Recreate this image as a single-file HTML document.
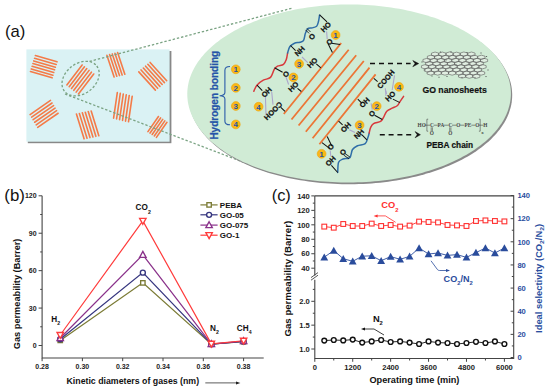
<!DOCTYPE html>
<html><head><meta charset="utf-8"><style>
html,body{margin:0;padding:0;background:#fff;}
svg{display:block;font-family:"Liberation Sans", sans-serif;}
</style></head><body>
<svg width="550" height="392" viewBox="0 0 550 392">
<rect width="550" height="392" fill="#fff"/>
<text x="4.9" y="36.7" font-size="16.4" fill="#111" textLength="20.4" lengthAdjust="spacingAndGlyphs">(a)</text>
<rect x="27.8" y="51" width="143.6" height="92.2" fill="#888"/>
<rect x="26.4" y="49.4" width="143.2" height="92.3" fill="#daf2f4"/>
<path d="M35.38,55.57L57.02,61.83M34.56,58.24L56.2,64.5M33.74,60.91L55.38,67.17M32.92,63.58L54.56,69.84M32.1,66.25L53.74,72.51M31.28,68.92L52.92,75.18M30.46,71.59L52.1,77.85M66.86,84.92L82.14,64.98M69.18,86.72L84.46,66.78M71.5,88.52L86.78,68.58M73.82,90.32L89.1,70.38M76.14,92.12L91.42,72.18M78.46,93.92L93.74,73.98M106.89,55.27L114.11,76.93M109.57,54.59L116.79,76.25M112.25,53.91L119.47,75.57M114.93,53.23L122.15,74.89M117.61,52.55L124.83,74.21M150.1,62.44L166.7,80.76M147.84,64.32L164.44,82.64M145.58,66.2L162.18,84.52M143.32,68.08L159.92,86.4M141.06,69.96L157.66,88.28M138.8,71.84L155.4,90.16M30.09,114.56L50.51,100.44M31.61,117.12L52.03,103M33.13,119.68L53.55,105.56M34.65,122.24L55.07,108.12M36.17,124.8L56.59,110.68M37.69,127.36L58.11,113.24M76.43,114.07L84.07,138.83M79.38,113.45L87.02,138.21M82.33,112.83L89.97,137.59M85.28,112.21L92.92,136.97M88.23,111.59L95.87,136.35M91.18,110.97L98.82,135.73M117.31,92.59L113.59,118.21M120.29,93.31L116.57,118.93M123.27,94.03L119.55,119.65M126.25,94.75L122.53,120.37M129.23,95.47L125.51,121.09M132.21,96.19L128.49,121.81M147.94,131.61L158.46,116.49M150.06,133.06L160.58,117.94M152.18,134.51L162.7,119.39M154.3,135.96L164.82,120.84M156.42,137.41L166.94,122.29" stroke="#f47b48" stroke-width="1.6" stroke-linecap="round" fill="none"/>
<g fill="none" stroke="#7aa383" stroke-width="1.3" stroke-dasharray="2.4 1.9">
<ellipse cx="80.6" cy="78.6" rx="20.5" ry="15" transform="rotate(-38 80.6 78.6)"/>
<path d="M89.5,61.4 L292,8.2"/>
<path d="M65,94 L268,171.6"/>
</g>
<defs><filter id="bl" x="-10%" y="-10%" width="120%" height="120%"><feGaussianBlur stdDeviation="0.6"/></filter></defs>
<path d="M512.2,95.15 L512.14,97.48 L511.98,99.81 L511.7,102.13 L511.31,104.45 L510.82,106.76 L510.21,109.06 L509.49,111.36 L508.67,113.64 L507.73,115.91 L506.69,118.17 L505.54,120.41 L504.29,122.64 L502.93,124.84 L501.46,127.03 L499.89,129.19 L498.22,131.33 L496.45,133.44 L494.58,135.53 L492.6,137.59 L490.54,139.63 L488.37,141.63 L486.11,143.6 L483.76,145.53 L481.32,147.43 L478.79,149.3 L476.16,151.13 L473.46,152.92 L470.67,154.67 L467.79,156.38 L464.84,158.05 L461.81,159.67 L458.7,161.25 L455.52,162.79 L452.26,164.28 L448.94,165.72 L445.55,167.11 L442.09,168.46 L438.57,169.75 L434.99,170.99 L431.35,172.18 L427.66,173.32 L423.91,174.41 L420.12,175.44 L416.27,176.41 L412.38,177.34 L408.45,178.2 L404.48,179.01 L400.48,179.76 L396.43,180.45 L392.36,181.09 L388.26,181.67 L384.13,182.18 L379.98,182.64 L375.81,183.05 L371.62,183.39 L367.41,183.67 L363.2,183.9 L358.97,184.06 L354.74,184.17 L350.5,184.21 L346.26,184.2 L342.02,184.13 L337.79,184 L333.56,183.81 L329.34,183.56 L325.13,183.25 L320.94,182.89 L316.76,182.47 L312.6,181.99 L308.46,181.45 L304.35,180.85 L300.27,180.2 L296.21,179.49 L292.19,178.72 L288.2,177.89 L284.25,177.01 L280.34,176.07 L276.48,175.07 L272.66,174.01 L268.89,172.9 L265.18,171.74 L261.53,170.51 L257.94,169.23 L254.41,167.9 L250.95,166.51 L247.57,165.07 L244.25,163.58 L241.02,162.04 L237.86,160.44 L234.79,158.8 L231.8,157.11 L228.91,155.38 L226.1,153.6 L223.39,151.77 L220.77,149.91 L218.25,148.01 L215.82,146.07 L213.5,144.09 L211.28,142.08 L209.15,140.04 L207.14,137.97 L205.22,135.87 L203.4,133.75 L201.69,131.6 L200.09,129.42 L198.58,127.23 L197.19,125.02 L195.89,122.78 L194.7,120.54 L193.62,118.27 L192.64,116 L191.77,113.71 L191,111.41 L190.34,109.1 L189.78,106.79 L189.33,104.47 L188.99,102.14 L188.75,99.81 L188.62,97.48 L188.6,95.15 L188.68,92.82 L188.87,90.49 L189.17,88.17 L189.58,85.85 L190.09,83.53 L190.72,81.23 L191.45,78.93 L192.28,76.65 L193.23,74.38 L194.28,72.12 L195.43,69.88 L196.69,67.66 L198.06,65.45 L199.53,63.27 L201.1,61.11 L202.77,58.97 L204.54,56.85 L206.42,54.77 L208.39,52.71 L210.46,50.67 L212.63,48.67 L214.89,46.7 L217.24,44.77 L219.68,42.87 L222.21,41 L224.83,39.17 L227.54,37.38 L230.33,35.63 L233.21,33.92 L236.16,32.25 L239.19,30.63 L242.3,29.05 L245.48,27.51 L248.74,26.02 L252.06,24.58 L255.46,23.19 L258.91,21.84 L262.43,20.55 L266.01,19.31 L269.65,18.12 L273.34,16.98 L277.09,15.89 L280.89,14.87 L284.73,13.89 L288.62,12.97 L292.55,12.11 L296.52,11.3 L300.53,10.55 L304.57,9.86 L308.65,9.23 L312.75,8.66 L316.88,8.14 L321.03,7.69 L325.2,7.3 L329.39,6.96 L333.6,6.69 L337.81,6.47 L342.04,6.32 L346.27,6.23 L350.5,6.2 L354.73,6.23 L358.96,6.32 L363.19,6.47 L367.4,6.69 L371.61,6.96 L375.8,7.3 L379.97,7.69 L384.12,8.14 L388.25,8.66 L392.35,9.23 L396.43,9.86 L400.47,10.55 L404.48,11.3 L408.45,12.11 L412.38,12.97 L416.27,13.89 L420.11,14.87 L423.91,15.89 L427.66,16.98 L431.35,18.12 L434.99,19.31 L438.57,20.55 L442.09,21.84 L445.54,23.19 L448.94,24.58 L452.26,26.02 L455.52,27.51 L458.7,29.05 L461.81,30.63 L464.84,32.25 L467.79,33.92 L470.67,35.63 L473.46,37.38 L476.16,39.17 L478.79,41 L481.32,42.87 L483.76,44.77 L486.11,46.7 L488.37,48.67 L490.54,50.68 L492.6,52.71 L494.58,54.77 L496.45,56.86 L498.22,58.97 L499.89,61.11 L501.46,63.27 L502.93,65.46 L504.29,67.66 L505.54,69.89 L506.69,72.13 L507.73,74.39 L508.67,76.66 L509.49,78.94 L510.21,81.24 L510.82,83.54 L511.31,85.85 L511.7,88.17 L511.98,90.49 L512.14,92.82Z" fill="#8a8a8a" filter="url(#bl)"/>
<path d="M510.9,93.45 L510.84,95.78 L510.68,98.11 L510.4,100.43 L510.01,102.75 L509.52,105.06 L508.91,107.36 L508.19,109.66 L507.37,111.94 L506.43,114.21 L505.39,116.47 L504.24,118.71 L502.99,120.94 L501.63,123.14 L500.16,125.33 L498.59,127.49 L496.92,129.63 L495.15,131.74 L493.28,133.83 L491.3,135.89 L489.24,137.93 L487.07,139.93 L484.81,141.9 L482.46,143.83 L480.02,145.73 L477.49,147.6 L474.86,149.43 L472.16,151.22 L469.37,152.97 L466.49,154.68 L463.54,156.35 L460.51,157.97 L457.4,159.55 L454.22,161.09 L450.96,162.58 L447.64,164.02 L444.25,165.41 L440.79,166.76 L437.27,168.05 L433.69,169.29 L430.05,170.48 L426.36,171.62 L422.61,172.71 L418.82,173.74 L414.97,174.71 L411.08,175.64 L407.15,176.5 L403.18,177.31 L399.18,178.06 L395.13,178.75 L391.06,179.39 L386.96,179.97 L382.83,180.48 L378.68,180.94 L374.51,181.35 L370.32,181.69 L366.11,181.97 L361.9,182.2 L357.67,182.36 L353.44,182.47 L349.2,182.51 L344.96,182.5 L340.72,182.43 L336.49,182.3 L332.26,182.11 L328.04,181.86 L323.83,181.55 L319.64,181.19 L315.46,180.77 L311.3,180.29 L307.16,179.75 L303.05,179.15 L298.97,178.5 L294.91,177.79 L290.89,177.02 L286.9,176.19 L282.95,175.31 L279.04,174.37 L275.18,173.37 L271.36,172.31 L267.59,171.2 L263.88,170.04 L260.23,168.81 L256.64,167.53 L253.11,166.2 L249.65,164.81 L246.27,163.37 L242.95,161.88 L239.72,160.34 L236.56,158.74 L233.49,157.1 L230.5,155.41 L227.61,153.68 L224.8,151.9 L222.09,150.07 L219.47,148.21 L216.95,146.31 L214.52,144.37 L212.2,142.39 L209.98,140.38 L207.85,138.34 L205.84,136.27 L203.92,134.17 L202.1,132.05 L200.39,129.9 L198.79,127.72 L197.28,125.53 L195.89,123.32 L194.59,121.08 L193.4,118.84 L192.32,116.57 L191.34,114.3 L190.47,112.01 L189.7,109.71 L189.04,107.4 L188.48,105.09 L188.03,102.77 L187.69,100.44 L187.45,98.11 L187.32,95.78 L187.3,93.45 L187.38,91.12 L187.57,88.79 L187.87,86.47 L188.28,84.15 L188.79,81.83 L189.42,79.53 L190.15,77.23 L190.98,74.95 L191.93,72.68 L192.98,70.42 L194.13,68.18 L195.39,65.96 L196.76,63.75 L198.23,61.57 L199.8,59.41 L201.47,57.27 L203.24,55.15 L205.12,53.07 L207.09,51.01 L209.16,48.97 L211.33,46.97 L213.59,45 L215.94,43.07 L218.38,41.17 L220.91,39.3 L223.53,37.47 L226.24,35.68 L229.03,33.93 L231.91,32.22 L234.86,30.55 L237.89,28.93 L241,27.35 L244.18,25.81 L247.44,24.32 L250.76,22.88 L254.16,21.49 L257.61,20.14 L261.13,18.85 L264.71,17.61 L268.35,16.42 L272.04,15.28 L275.79,14.19 L279.59,13.17 L283.43,12.19 L287.32,11.27 L291.25,10.41 L295.22,9.6 L299.23,8.85 L303.27,8.16 L307.35,7.53 L311.45,6.96 L315.58,6.44 L319.73,5.99 L323.9,5.6 L328.09,5.26 L332.3,4.99 L336.51,4.77 L340.74,4.62 L344.97,4.53 L349.2,4.5 L353.43,4.53 L357.66,4.62 L361.89,4.77 L366.1,4.99 L370.31,5.26 L374.5,5.6 L378.67,5.99 L382.82,6.44 L386.95,6.96 L391.05,7.53 L395.13,8.16 L399.17,8.85 L403.18,9.6 L407.15,10.41 L411.08,11.27 L414.97,12.19 L418.81,13.17 L422.61,14.19 L426.36,15.28 L430.05,16.42 L433.69,17.61 L437.27,18.85 L440.79,20.14 L444.24,21.49 L447.64,22.88 L450.96,24.32 L454.22,25.81 L457.4,27.35 L460.51,28.93 L463.54,30.55 L466.49,32.22 L469.37,33.93 L472.16,35.68 L474.86,37.47 L477.49,39.3 L480.02,41.17 L482.46,43.07 L484.81,45 L487.07,46.97 L489.24,48.98 L491.3,51.01 L493.28,53.07 L495.15,55.16 L496.92,57.27 L498.59,59.41 L500.16,61.57 L501.63,63.76 L502.99,65.96 L504.24,68.19 L505.39,70.43 L506.43,72.69 L507.37,74.96 L508.19,77.24 L508.91,79.54 L509.52,81.84 L510.01,84.15 L510.4,86.47 L510.68,88.79 L510.84,91.12Z" fill="#d0ebd5"/>
<text x="217.6" y="95.2" font-size="10" font-weight="bold" fill="#2554a8" text-anchor="middle" transform="rotate(-90 217.6 95.2)" textLength="88.8" lengthAdjust="spacingAndGlyphs" stroke="#2554a8" stroke-width="0.25">Hydrogen bonding</text>
<path d="M230,66.5 C226.5,66.5 224.9,67.8 224.9,70.3 L224.9,92.6 C224.9,94.6 223.2,95.6 219.6,95.8 C223.2,96 224.9,97 224.9,99 L224.9,121.2 C224.9,123.6 226.5,124.8 230,124.8" fill="none" stroke="#2a5aa8" stroke-width="1.1"/>
<circle cx="235.8" cy="69.3" r="4.4" fill="#fab816" stroke="#eea20c" stroke-width="0.6"/>
<text x="235.8" y="72.2" font-size="8" font-weight="bold" fill="#2a55a4" text-anchor="middle">1</text>
<circle cx="235.8" cy="87.8" r="4.4" fill="#fab816" stroke="#eea20c" stroke-width="0.6"/>
<text x="235.8" y="90.7" font-size="8" font-weight="bold" fill="#2a55a4" text-anchor="middle">2</text>
<circle cx="235.8" cy="106" r="4.4" fill="#fab816" stroke="#eea20c" stroke-width="0.6"/>
<text x="235.8" y="108.9" font-size="8" font-weight="bold" fill="#2a55a4" text-anchor="middle">3</text>
<circle cx="235.8" cy="124.4" r="4.4" fill="#fab816" stroke="#eea20c" stroke-width="0.6"/>
<text x="235.8" y="127.3" font-size="8" font-weight="bold" fill="#2a55a4" text-anchor="middle">4</text>
<path d="M283.8,114L341.2,43M291.5,119.5L348.7,49.7M298.6,125.5L356.2,55.3M305.8,131.8L363.8,61M312.6,138.2L369.5,67.6M319.4,144.2L375.6,74.4" stroke="#ec7636" stroke-width="1.8" fill="none"/>
<path d="M253.8,91.3 C254.32,90.28 255.32,87.05 256.9,85.2 C258.48,83.35 261.03,81.5 263.3,80.2 C265.57,78.9 268.68,79.18 270.5,77.4 C272.32,75.62 273.03,71.37 274.2,69.5 C275.37,67.63 275.95,67.07 277.5,66.2 C279.05,65.33 282.03,65.42 283.5,64.3 C284.97,63.18 285.62,61.4 286.3,59.5 C286.98,57.6 287.38,54 287.6,52.9" stroke="#d8393c" stroke-width="1.5" fill="none" stroke-linecap="round"/>
<path d="M287.6,52.9 C287.98,51.83 288.75,48.12 289.9,46.5 C291.05,44.88 292.82,43.92 294.5,43.2 C296.18,42.48 298.48,42.68 300,42.2 C301.52,41.72 302.7,41.78 303.6,40.3 C304.5,38.82 304.7,35.23 305.4,33.3 C306.1,31.37 306.7,29.6 307.8,28.7 C308.9,27.8 310.53,28.32 312,27.9 C313.47,27.48 315.53,27.22 316.6,26.2 C317.67,25.18 317.9,23.68 318.4,21.8 C318.9,19.92 319.4,16.05 319.6,14.9" stroke="#2f6ea8" stroke-width="1.5" fill="none" stroke-linecap="round"/>
<path d="M337.7,172.5 C337.85,170.8 337.72,164.55 338.6,162.3 C339.48,160.05 341.13,159.78 343,159 C344.87,158.22 348.22,159.18 349.8,157.6 C351.38,156.02 351.22,151.48 352.5,149.5 C353.78,147.52 355.38,146.68 357.5,145.7 C359.62,144.72 363.45,145.02 365.2,143.6 C366.95,142.18 367.33,138.97 368,137.2 C368.67,135.43 369,133.7 369.2,133" stroke="#2f6ea8" stroke-width="1.5" fill="none" stroke-linecap="round"/>
<path d="M369.2,133 C369.43,132.1 369.87,129.17 370.6,127.6 C371.33,126.03 371.93,124.63 373.6,123.6 C375.27,122.57 378.97,122.4 380.6,121.4 C382.23,120.4 382.37,119.3 383.4,117.6 C384.43,115.9 385.33,112.77 386.8,111.2 C388.27,109.63 390.47,109.1 392.2,108.2 C393.93,107.3 395.9,106.9 397.2,105.8 C398.5,104.7 398.93,103.18 400,101.6 C401.07,100.02 403,97.18 403.6,96.3" stroke="#d8393c" stroke-width="1.5" fill="none" stroke-linecap="round"/>
<path d="M257,85.2L262.3,90.6M280.8,107.4L285,111.3M274.5,67.8L282.6,72.3M297.5,88.3L301.3,91.5M290.5,45.5L295.6,50.6M316.3,63.8L320.9,67.9M319.6,14.9L327,21.8M328.1,43.8L332.4,52.6M331.4,43.2L340.2,44.6M373.8,78.4L377.6,81.6M357.8,99.1L362,103.3M374.6,115.2L382.3,119.5M392.9,99.1L399.9,102.6M362,134.9L366.9,139.8M330.2,148.8L322,142.6M331.8,146L327.2,136.6M331.4,165.4L337.7,172.5M338.6,121.2L342.6,124.8" stroke="#111" stroke-width="1.05" fill="none"/>
<path d="M305.59,29.91L309.09,33.41M307.01,28.49L310.51,31.99" stroke="#111" stroke-width="0.85" fill="none"/>
<path d="M343.62,155.01L348.92,158.81M344.78,153.39L350.08,157.19" stroke="#111" stroke-width="0.85" fill="none"/>
<path d="M265.4,95.4L266,115.5M271.7,92L273,104.6M285.8,76.5L288.6,84.5M302,57L307.7,62.7M326.6,31.5L327.2,39M385.3,88.3L386,96M394.5,75.3L392.2,90M371.1,103.3L372.3,109.6M385.9,90.5L386.6,94M330.2,150.5L330.8,156.5M349.3,129.8L355,132.5" stroke="#aca6cc" stroke-width="1.1" fill="none"/>
<text x="266.5" y="94.86" font-size="7.4" font-weight="bold" fill="#111" stroke="#111" stroke-width="0.22" text-anchor="middle" transform="rotate(-45 266.5 92.2)">OH</text>
<text x="273.3" y="113.66" font-size="7.4" font-weight="bold" fill="#111" stroke="#111" stroke-width="0.22" text-anchor="middle" transform="rotate(135 273.3 111)">COOH</text>
<text x="286" y="76.86" font-size="7.4" font-weight="bold" fill="#111" stroke="#111" stroke-width="0.22" text-anchor="middle" transform="rotate(-45 286 74.2)">O</text>
<text x="293.2" y="89.26" font-size="7.4" font-weight="bold" fill="#111" stroke="#111" stroke-width="0.22" text-anchor="middle" transform="rotate(-45 293.2 86.6)">HO</text>
<text x="299.6" y="53.86" font-size="7.4" font-weight="bold" fill="#111" stroke="#111" stroke-width="0.22" text-anchor="middle" transform="rotate(-45 299.6 51.2)">NH</text>
<text x="312.3" y="65.36" font-size="7.4" font-weight="bold" fill="#111" stroke="#111" stroke-width="0.22" text-anchor="middle" transform="rotate(-45 312.3 62.7)">HO</text>
<text x="312" y="39.16" font-size="7.4" font-weight="bold" fill="#111" stroke="#111" stroke-width="0.22" text-anchor="middle" transform="rotate(-45 312 36.5)">O</text>
<text x="325.8" y="29.66" font-size="7.4" font-weight="bold" fill="#111" stroke="#111" stroke-width="0.22" text-anchor="middle" transform="rotate(-45 325.8 27)">HO</text>
<text x="329.4" y="44.46" font-size="7.4" font-weight="bold" fill="#111" stroke="#111" stroke-width="0.22" text-anchor="middle" transform="rotate(-45 329.4 41.8)">O</text>
<text x="385.7" y="81.86" font-size="7.4" font-weight="bold" fill="#111" stroke="#111" stroke-width="0.22" text-anchor="middle" transform="rotate(-49 385.7 79.2)">COOH</text>
<text x="390.3" y="98.86" font-size="7.4" font-weight="bold" fill="#111" stroke="#111" stroke-width="0.22" text-anchor="middle" transform="rotate(-45 390.3 96.2)">HO</text>
<text x="364.6" y="105.06" font-size="7.4" font-weight="bold" fill="#111" stroke="#111" stroke-width="0.22" text-anchor="middle" transform="rotate(-45 364.6 102.4)">OH</text>
<text x="371.8" y="116.26" font-size="7.4" font-weight="bold" fill="#111" stroke="#111" stroke-width="0.22" text-anchor="middle" transform="rotate(-45 371.8 113.6)">O</text>
<text x="359" y="136.46" font-size="7.4" font-weight="bold" fill="#111" stroke="#111" stroke-width="0.22" text-anchor="middle" transform="rotate(-45 359 133.8)">NH</text>
<text x="345.8" y="129.86" font-size="7.4" font-weight="bold" fill="#111" stroke="#111" stroke-width="0.22" text-anchor="middle" transform="rotate(-45 345.8 127.2)">OH</text>
<text x="330.6" y="149.46" font-size="7.4" font-weight="bold" fill="#111" stroke="#111" stroke-width="0.22" text-anchor="middle" transform="rotate(-45 330.6 146.8)">O</text>
<text x="330.6" y="163.66" font-size="7.4" font-weight="bold" fill="#111" stroke="#111" stroke-width="0.22" text-anchor="middle" transform="rotate(-45 330.6 161)">OH</text>
<text x="343" y="154.66" font-size="7.4" font-weight="bold" fill="#111" stroke="#111" stroke-width="0.22" text-anchor="middle" transform="rotate(-45 343 152)">O</text>
<circle cx="258.6" cy="106.7" r="4.4" fill="#fab816" stroke="#eea20c" stroke-width="0.6"/>
<text x="258.6" y="109.6" font-size="8" font-weight="bold" fill="#2a55a4" text-anchor="middle">4</text>
<circle cx="293.4" cy="77.4" r="4.4" fill="#fab816" stroke="#eea20c" stroke-width="0.6"/>
<text x="293.4" y="80.3" font-size="8" font-weight="bold" fill="#2a55a4" text-anchor="middle">2</text>
<circle cx="299.1" cy="63.8" r="4.4" fill="#fab816" stroke="#eea20c" stroke-width="0.6"/>
<text x="299.1" y="66.7" font-size="8" font-weight="bold" fill="#2a55a4" text-anchor="middle">3</text>
<circle cx="335.6" cy="35" r="4.4" fill="#fab816" stroke="#eea20c" stroke-width="0.6"/>
<text x="335.6" y="37.9" font-size="8" font-weight="bold" fill="#2a55a4" text-anchor="middle">1</text>
<circle cx="399" cy="86.8" r="4.4" fill="#fab816" stroke="#eea20c" stroke-width="0.6"/>
<text x="399" y="89.7" font-size="8" font-weight="bold" fill="#2a55a4" text-anchor="middle">4</text>
<circle cx="376.7" cy="106.1" r="4.4" fill="#fab816" stroke="#eea20c" stroke-width="0.6"/>
<text x="376.7" y="109" font-size="8" font-weight="bold" fill="#2a55a4" text-anchor="middle">2</text>
<circle cx="359.6" cy="125.1" r="4.4" fill="#fab816" stroke="#eea20c" stroke-width="0.6"/>
<text x="359.6" y="128" font-size="8" font-weight="bold" fill="#2a55a4" text-anchor="middle">3</text>
<circle cx="321.6" cy="153.8" r="4.4" fill="#fab816" stroke="#eea20c" stroke-width="0.6"/>
<text x="321.6" y="156.7" font-size="8" font-weight="bold" fill="#2a55a4" text-anchor="middle">1</text>
<g stroke="#111" stroke-width="1.5" fill="none">
<path d="M370,63.6 L410.6,63.6" stroke-dasharray="5 4"/>
<path d="M379.8,134.7 L412,134.7" stroke-dasharray="5 3.8"/>
</g>
<path d="M412.8,60.5 L418.7,63.6 L412.8,66.7 L415,63.6 Z M415.1,131.6 L420.4,134.7 L415.1,137.8 L417.2,134.7 Z" fill="#111" stroke="#111" stroke-width="0.5" stroke-linejoin="round"/>
<path d="M435.08,52.06 L438.68,53.11 L438.68,55.21 L435.08,56.26 L431.48,55.21 L431.48,53.11ZM442.35,52.08 L445.95,53.13 L445.95,55.23 L442.35,56.28 L438.75,55.23 L438.75,53.13ZM449.68,51.92 L453.28,52.97 L453.28,55.07 L449.68,56.12 L446.08,55.07 L446.08,52.97ZM456.57,52.15 L460.17,53.2 L460.17,55.3 L456.57,56.35 L452.97,55.3 L452.97,53.2ZM463.89,51.97 L467.49,53.02 L467.49,55.12 L463.89,56.17 L460.29,55.12 L460.29,53.02ZM471.46,52.04 L475.06,53.09 L475.06,55.19 L471.46,56.24 L467.86,55.19 L467.86,53.09ZM430.99,55.19 L434.59,56.24 L434.59,58.34 L430.99,59.39 L427.39,58.34 L427.39,56.24ZM438.09,55.1 L441.69,56.15 L441.69,58.25 L438.09,59.3 L434.49,58.25 L434.49,56.15ZM445.29,55.31 L448.89,56.36 L448.89,58.46 L445.29,59.51 L441.69,58.46 L441.69,56.36ZM452.44,55.27 L456.04,56.32 L456.04,58.42 L452.44,59.47 L448.84,58.42 L448.84,56.32ZM459.71,55.07 L463.31,56.12 L463.31,58.22 L459.71,59.27 L456.11,58.22 L456.11,56.12ZM466.95,55.23 L470.55,56.28 L470.55,58.38 L466.95,59.43 L463.35,58.38 L463.35,56.28ZM473.93,55.06 L477.53,56.11 L477.53,58.21 L473.93,59.26 L470.33,58.21 L470.33,56.11ZM481.41,55.19 L485.01,56.24 L485.01,58.34 L481.41,59.39 L477.81,58.34 L477.81,56.24ZM426.55,58.46 L430.15,59.51 L430.15,61.61 L426.55,62.66 L422.95,61.61 L422.95,59.51ZM433.74,58.48 L437.34,59.53 L437.34,61.63 L433.74,62.68 L430.14,61.63 L430.14,59.53ZM440.78,58.44 L444.38,59.49 L444.38,61.59 L440.78,62.64 L437.18,61.59 L437.18,59.49ZM448.01,58.48 L451.61,59.53 L451.61,61.63 L448.01,62.68 L444.41,61.63 L444.41,59.53ZM455.43,58.23 L459.03,59.28 L459.03,61.38 L455.43,62.43 L451.83,61.38 L451.83,59.28ZM462.26,58.27 L465.86,59.32 L465.86,61.42 L462.26,62.47 L458.66,61.42 L458.66,59.32ZM469.87,58.33 L473.47,59.38 L473.47,61.48 L469.87,62.53 L466.27,61.48 L466.27,59.38ZM476.9,58.29 L480.5,59.34 L480.5,61.44 L476.9,62.49 L473.3,61.44 L473.3,59.34ZM484.04,58.32 L487.64,59.37 L487.64,61.47 L484.04,62.52 L480.44,61.47 L480.44,59.37ZM429.18,61.53 L432.78,62.58 L432.78,64.68 L429.18,65.73 L425.58,64.68 L425.58,62.58ZM436.49,61.62 L440.09,62.67 L440.09,64.77 L436.49,65.82 L432.89,64.77 L432.89,62.67ZM443.74,61.63 L447.34,62.68 L447.34,64.78 L443.74,65.83 L440.14,64.78 L440.14,62.68ZM451.03,61.65 L454.63,62.7 L454.63,64.8 L451.03,65.85 L447.43,64.8 L447.43,62.7ZM458.14,61.4 L461.74,62.45 L461.74,64.55 L458.14,65.6 L454.54,64.55 L454.54,62.45ZM465.43,61.64 L469.03,62.69 L469.03,64.79 L465.43,65.84 L461.83,64.79 L461.83,62.69ZM472.65,61.52 L476.25,62.57 L476.25,64.67 L472.65,65.72 L469.05,64.67 L469.05,62.57ZM479.76,61.41 L483.36,62.46 L483.36,64.56 L479.76,65.61 L476.16,64.56 L476.16,62.46ZM425.03,64.67 L428.63,65.72 L428.63,67.82 L425.03,68.87 L421.43,67.82 L421.43,65.72ZM431.95,64.52 L435.55,65.57 L435.55,67.67 L431.95,68.72 L428.35,67.67 L428.35,65.57ZM439.44,64.8 L443.04,65.85 L443.04,67.95 L439.44,69 L435.84,67.95 L435.84,65.85ZM446.26,64.74 L449.86,65.79 L449.86,67.89 L446.26,68.94 L442.66,67.89 L442.66,65.79ZM453.62,64.55 L457.22,65.6 L457.22,67.7 L453.62,68.75 L450.02,67.7 L450.02,65.6ZM460.76,64.73 L464.36,65.78 L464.36,67.88 L460.76,68.93 L457.16,67.88 L457.16,65.78ZM468.25,64.51 L471.85,65.56 L471.85,67.66 L468.25,68.71 L464.65,67.66 L464.65,65.56ZM475.32,64.51 L478.92,65.56 L478.92,67.66 L475.32,68.71 L471.72,67.66 L471.72,65.56ZM482.57,64.6 L486.17,65.65 L486.17,67.75 L482.57,68.8 L478.97,67.75 L478.97,65.65ZM427.87,67.94 L431.47,68.99 L431.47,71.09 L427.87,72.14 L424.27,71.09 L424.27,68.99ZM434.88,67.95 L438.48,69 L438.48,71.1 L434.88,72.15 L431.28,71.1 L431.28,69ZM441.98,67.67 L445.58,68.72 L445.58,70.82 L441.98,71.87 L438.38,70.82 L438.38,68.72ZM449.32,67.66 L452.92,68.71 L452.92,70.81 L449.32,71.86 L445.72,70.81 L445.72,68.71ZM456.32,67.77 L459.92,68.82 L459.92,70.92 L456.32,71.97 L452.72,70.92 L452.72,68.82ZM463.73,67.7 L467.33,68.75 L467.33,70.85 L463.73,71.9 L460.13,70.85 L460.13,68.75ZM470.65,67.91 L474.25,68.96 L474.25,71.06 L470.65,72.11 L467.05,71.06 L467.05,68.96ZM477.98,67.94 L481.58,68.99 L481.58,71.09 L477.98,72.14 L474.38,71.09 L474.38,68.99ZM430.69,70.91 L434.29,71.96 L434.29,74.06 L430.69,75.11 L427.09,74.06 L427.09,71.96ZM437.67,70.96 L441.27,72.01 L441.27,74.11 L437.67,75.16 L434.07,74.11 L434.07,72.01ZM444.96,70.98 L448.56,72.03 L448.56,74.13 L444.96,75.18 L441.36,74.13 L441.36,72.03ZM452.12,70.99 L455.72,72.04 L455.72,74.14 L452.12,75.19 L448.52,74.14 L448.52,72.04ZM459.51,70.95 L463.11,72 L463.11,74.1 L459.51,75.15 L455.91,74.1 L455.91,72ZM466.45,71.02 L470.05,72.07 L470.05,74.17 L466.45,75.22 L462.85,74.17 L462.85,72.07ZM473.56,70.89 L477.16,71.94 L477.16,74.04 L473.56,75.09 L469.96,74.04 L469.96,71.94ZM481.13,70.96 L484.73,72.01 L484.73,74.11 L481.13,75.16 L477.53,74.11 L477.53,72.01ZM462.12,73.95 L465.72,75 L465.72,77.1 L462.12,78.15 L458.52,77.1 L458.52,75ZM469.26,74.12 L472.86,75.17 L472.86,77.27 L469.26,78.32 L465.66,77.27 L465.66,75.17ZM476.26,74.13 L479.86,75.18 L479.86,77.28 L476.26,78.33 L472.66,77.28 L472.66,75.18Z" fill="#e0eee1" stroke="#5a5a5a" stroke-width="0.6" stroke-linejoin="round"/>
<g fill="#555"><rect x="439.9" y="51.55" width="1.2" height="0.9"/><rect x="450.4" y="51.35" width="1.2" height="0.9"/><rect x="466.4" y="52.05" width="1.2" height="0.9"/><rect x="480.4" y="52.55" width="1.2" height="0.9"/><rect x="485.9" y="56.05" width="1.2" height="0.9"/><rect x="487.4" y="69.55" width="1.2" height="0.9"/><rect x="485.4" y="76.15" width="1.2" height="0.9"/><rect x="474.4" y="77.55" width="1.2" height="0.9"/><rect x="461.4" y="76.95" width="1.2" height="0.9"/><rect x="446.4" y="75.95" width="1.2" height="0.9"/><rect x="438.4" y="76.75" width="1.2" height="0.9"/><rect x="431.4" y="75.55" width="1.2" height="0.9"/><rect x="424.4" y="69.55" width="1.2" height="0.9"/><rect x="421.4" y="61.55" width="1.2" height="0.9"/><rect x="455.4" y="64.55" width="1.2" height="0.9"/><rect x="469.4" y="63.55" width="1.2" height="0.9"/><rect x="477.4" y="67.55" width="1.2" height="0.9"/><rect x="445.4" y="59.55" width="1.2" height="0.9"/></g>
<text x="454.6" y="92.5" font-size="9.8" font-weight="bold" fill="#111" text-anchor="middle" textLength="64.4" lengthAdjust="spacingAndGlyphs" stroke="#111" stroke-width="0.2">GO nanosheets</text>
<text x="449.8" y="148.2" font-size="9" font-weight="bold" fill="#111" text-anchor="middle" textLength="46.8" lengthAdjust="spacingAndGlyphs" stroke="#111" stroke-width="0.2">PEBA chain</text>
<g font-family="Liberation Serif, serif" font-size="5.3" font-weight="bold" fill="#474747" text-anchor="middle">
<text x="421.7" y="127">HO</text>
<text x="431.8" y="127">C</text>
<text x="440.9" y="127">PA</text>
<text x="450.3" y="127">C</text>
<text x="458.4" y="127">O</text>
<text x="467.9" y="127">PE</text>
<text x="477.2" y="127">O</text>
<text x="485.2" y="127">H</text>
<text x="431.8" y="135.3">O</text><text x="450.3" y="135.3">O</text><text x="482.6" y="134.2" font-size="3.6">n</text>
</g>
<path d="M428.2,119.2 L426.9,119.2 L426.9,131.2 L428.2,131.2 M478.9,119.2 L480.2,119.2 L480.2,131.2 L478.9,131.2 M424.4,125.2 L430,125.2 M433.6,125.2 L437.8,125.2 M444,125.2 L448.6,125.2 M452,125.2 L456.6,125.2 M460.2,125.2 L464.5,125.2 M471.3,125.2 L475.4,125.2 M479,125.2 L483.4,125.2 M431.2,127.3 L431.2,131.3 M432.4,127.3 L432.4,131.3 M449.7,127.3 L449.7,131.3 M450.9,127.3 L450.9,131.3" stroke="#474747" stroke-width="0.6" fill="none"/>
<!-- panel b -->
<text x="4.3" y="201.3" font-size="16.4" fill="#111" textLength="20.6" lengthAdjust="spacingAndGlyphs">(b)</text>
<path d="M42.1,195.7 L42.1,358 L263.7,358" stroke="#444" stroke-width="1.1" fill="none"/>
<text x="36.6" y="348" font-size="7" font-weight="bold" fill="#222" text-anchor="end" >0</text>
<text x="36.6" y="310.57" font-size="7" font-weight="bold" fill="#222" text-anchor="end" >30</text>
<text x="36.6" y="273.15" font-size="7" font-weight="bold" fill="#222" text-anchor="end" >60</text>
<text x="36.6" y="235.72" font-size="7" font-weight="bold" fill="#222" text-anchor="end" >90</text>
<text x="36.6" y="198.3" font-size="7" font-weight="bold" fill="#222" text-anchor="end" >120</text>
<text x="42.1" y="368.6" font-size="7" font-weight="bold" fill="#222" text-anchor="middle" >0.28</text>
<text x="82.4" y="368.6" font-size="7" font-weight="bold" fill="#222" text-anchor="middle" >0.30</text>
<text x="122.7" y="368.6" font-size="7" font-weight="bold" fill="#222" text-anchor="middle" >0.32</text>
<text x="163" y="368.6" font-size="7" font-weight="bold" fill="#222" text-anchor="middle" >0.34</text>
<text x="203.3" y="368.6" font-size="7" font-weight="bold" fill="#222" text-anchor="middle" >0.36</text>
<text x="243.6" y="368.6" font-size="7" font-weight="bold" fill="#222" text-anchor="middle" >0.38</text>
<path d="M38.6,345.5L42.1,345.5M38.6,308.07L42.1,308.07M38.6,270.65L42.1,270.65M38.6,233.22L42.1,233.22M38.6,195.8L42.1,195.8M40.2,326.79L42.1,326.79M40.2,289.36L42.1,289.36M40.2,251.94L42.1,251.94M40.2,214.51L42.1,214.51M42.1,358L42.1,361.2M82.4,358L82.4,361.2M122.7,358L122.7,361.2M163,358L163,361.2M203.3,358L203.3,361.2M243.6,358L243.6,361.2" stroke="#444" stroke-width="1" fill="none"/>
<text x="20.1" y="293.9" font-size="9" font-weight="bold" fill="#111" text-anchor="middle" transform="rotate(-90 20.1 293.9)" textLength="110.6" lengthAdjust="spacingAndGlyphs" >Gas permeability (Barrer)</text>
<text x="132.8" y="384.1" font-size="8.7" font-weight="bold" fill="#111" text-anchor="middle" textLength="132.6" lengthAdjust="spacingAndGlyphs" >Kinetic diameters of gases (nm)</text>
<path d="M205.3,382.9 L238,382.9" stroke="#333" stroke-width="0.8"/><path d="M236,381.4 L240.4,382.9 L236,384.4 Z" fill="#222"/>
<polyline points="60.23,340.39 142.85,282.88 211.36,344.25 243.6,341.76" fill="none" stroke="#7b7b35" stroke-width="1.2"/>
<polyline points="60.23,339.26 142.85,272.65 211.36,344.13 243.6,341.51" fill="none" stroke="#36367f" stroke-width="1.2"/>
<polyline points="60.23,338.01 142.85,254.81 211.36,344 243.6,341.13" fill="none" stroke="#8a318a" stroke-width="1.2"/>
<polyline points="60.23,335.02 142.85,220.87 211.36,343.75 243.6,340.76" fill="none" stroke="#ff3b3b" stroke-width="1.2"/>
<rect x="58.03" y="338.19" width="4.4" height="4.4" fill="#fff" stroke="#7b7b35" stroke-width="1.35"/>
<rect x="140.65" y="280.68" width="4.4" height="4.4" fill="#fff" stroke="#7b7b35" stroke-width="1.35"/>
<rect x="209.16" y="342.05" width="4.4" height="4.4" fill="#fff" stroke="#7b7b35" stroke-width="1.35"/>
<rect x="241.4" y="339.56" width="4.4" height="4.4" fill="#fff" stroke="#7b7b35" stroke-width="1.35"/>
<circle cx="60.23" cy="339.26" r="2.5" fill="#fff" stroke="#36367f" stroke-width="1.35"/>
<circle cx="142.85" cy="272.65" r="2.5" fill="#fff" stroke="#36367f" stroke-width="1.35"/>
<circle cx="211.36" cy="344.13" r="2.5" fill="#fff" stroke="#36367f" stroke-width="1.35"/>
<circle cx="243.6" cy="341.51" r="2.5" fill="#fff" stroke="#36367f" stroke-width="1.35"/>
<path d="M60.23,334.62 L63.46,340.56 L57,340.56 Z" fill="#fff" stroke="#8a318a" stroke-width="1.35"/>
<path d="M142.85,251.41 L146.08,257.36 L139.62,257.36 Z" fill="#fff" stroke="#8a318a" stroke-width="1.35"/>
<path d="M211.36,340.6 L214.59,346.55 L208.13,346.55 Z" fill="#fff" stroke="#8a318a" stroke-width="1.35"/>
<path d="M243.6,337.73 L246.83,343.68 L240.37,343.68 Z" fill="#fff" stroke="#8a318a" stroke-width="1.35"/>
<path d="M60.23,338.42 L63.46,332.47 L57,332.47 Z" fill="#fff" stroke="#ff3b3b" stroke-width="1.35"/>
<path d="M142.85,224.27 L146.08,218.32 L139.62,218.32 Z" fill="#fff" stroke="#ff3b3b" stroke-width="1.35"/>
<path d="M211.36,347.15 L214.59,341.2 L208.13,341.2 Z" fill="#fff" stroke="#ff3b3b" stroke-width="1.35"/>
<path d="M243.6,344.16 L246.83,338.21 L240.37,338.21 Z" fill="#fff" stroke="#ff3b3b" stroke-width="1.35"/>
<text x="51.3" y="321.5" font-size="8.2" font-weight="bold" fill="#111">H<tspan font-size="5.2" dy="3.6">2</tspan></text>
<text x="135.6" y="210" font-size="8.2" font-weight="bold" fill="#111">CO<tspan font-size="5.2" dy="3.6">2</tspan></text>
<text x="210" y="330.5" font-size="8.2" font-weight="bold" fill="#111">N<tspan font-size="5.2" dy="3.6">2</tspan></text>
<text x="236.8" y="330.5" font-size="8.2" font-weight="bold" fill="#111">CH<tspan font-size="5.2" dy="3.6">4</tspan></text>
<path d="M200.4,204.9L217.6,204.9" stroke="#7b7b35" stroke-width="1.2"/>
<rect x="206.9" y="202.7" width="4.4" height="4.4" fill="#fff" stroke="#7b7b35" stroke-width="1.35"/>
<text x="219.8" y="207.8" font-size="8" font-weight="bold" fill="#111" text-anchor="start" >PEBA</text>
<path d="M200.4,214.8L217.6,214.8" stroke="#36367f" stroke-width="1.2"/>
<circle cx="209.1" cy="214.8" r="2.5" fill="#fff" stroke="#36367f" stroke-width="1.35"/>
<text x="219.8" y="217.7" font-size="8" font-weight="bold" fill="#111" text-anchor="start" >GO-05</text>
<path d="M200.4,225.1L217.6,225.1" stroke="#8a318a" stroke-width="1.2"/>
<path d="M209.1,221.7 L212.33,227.65 L205.87,227.65 Z" fill="#fff" stroke="#8a318a" stroke-width="1.35"/>
<text x="219.8" y="228" font-size="8" font-weight="bold" fill="#111" text-anchor="start" >GO-075</text>
<path d="M200.4,235.2L217.6,235.2" stroke="#ff3b3b" stroke-width="1.2"/>
<path d="M209.1,238.6 L212.33,232.65 L205.87,232.65 Z" fill="#fff" stroke="#ff3b3b" stroke-width="1.35"/>
<text x="219.8" y="238.1" font-size="8" font-weight="bold" fill="#111" text-anchor="start" >GO-1</text>
<!-- panel c -->
<text x="271.7" y="201.3" font-size="16.4" fill="#111">(c)</text>
<path d="M314.8,195.9 L513.7,195.9 L513.7,358.5 L314.8,358.5 L314.8,279.8 M314.8,275.6 L314.8,195.9" stroke="#444" stroke-width="1.1" fill="none"/>
<path d="M311,280.2 L318,275.2 M311,277.6 L318,272.6" stroke="#444" stroke-width="0.9" fill="none"/>
<text x="309.8" y="198.6" font-size="7.6" font-weight="bold" fill="#222" text-anchor="end" >140</text>
<text x="309.8" y="213.06" font-size="7.6" font-weight="bold" fill="#222" text-anchor="end" >120</text>
<text x="309.8" y="227.52" font-size="7.6" font-weight="bold" fill="#222" text-anchor="end" >100</text>
<text x="309.8" y="241.98" font-size="7.6" font-weight="bold" fill="#222" text-anchor="end" >80</text>
<text x="309.8" y="256.44" font-size="7.6" font-weight="bold" fill="#222" text-anchor="end" >60</text>
<text x="309.8" y="270.9" font-size="7.6" font-weight="bold" fill="#222" text-anchor="end" >40</text>
<text x="309.8" y="304" font-size="7.6" font-weight="bold" fill="#222" text-anchor="end" >2.0</text>
<text x="309.8" y="327.85" font-size="7.6" font-weight="bold" fill="#222" text-anchor="end" >1.5</text>
<text x="309.8" y="351.7" font-size="7.6" font-weight="bold" fill="#222" text-anchor="end" >1.0</text>
<text x="314.8" y="369.8" font-size="7.6" font-weight="bold" fill="#222" text-anchor="middle" >0</text>
<text x="352.72" y="369.8" font-size="7.6" font-weight="bold" fill="#222" text-anchor="middle" >1200</text>
<text x="390.64" y="369.8" font-size="7.6" font-weight="bold" fill="#222" text-anchor="middle" >2400</text>
<text x="428.56" y="369.8" font-size="7.6" font-weight="bold" fill="#222" text-anchor="middle" >3600</text>
<text x="466.48" y="369.8" font-size="7.6" font-weight="bold" fill="#222" text-anchor="middle" >4800</text>
<text x="504.4" y="369.8" font-size="7.6" font-weight="bold" fill="#222" text-anchor="middle" >6000</text>
<path d="M311.3,195.9L314.8,195.9M311.3,210.36L314.8,210.36M311.3,224.82L314.8,224.82M311.3,239.28L314.8,239.28M311.3,253.74L314.8,253.74M311.3,268.2L314.8,268.2M312.8,203.13L314.8,203.13M312.8,217.59L314.8,217.59M312.8,232.05L314.8,232.05M312.8,246.51L314.8,246.51M312.8,260.97L314.8,260.97M311.3,301.3L314.8,301.3M311.3,325.15L314.8,325.15M311.3,349L314.8,349M312.8,289.38L314.8,289.38M312.8,313.23L314.8,313.23M312.8,337.07L314.8,337.07M314.8,358.5L314.8,361.8M333.76,358.5L333.76,360.5M352.72,358.5L352.72,361.8M371.68,358.5L371.68,360.5M390.64,358.5L390.64,361.8M409.6,358.5L409.6,360.5M428.56,358.5L428.56,361.8M447.52,358.5L447.52,360.5M466.48,358.5L466.48,361.8M485.44,358.5L485.44,360.5M504.4,358.5L504.4,361.8" stroke="#444" stroke-width="1" fill="none"/>
<text x="517.4" y="360.2" font-size="7.6" font-weight="bold" fill="#2a4e9e" text-anchor="start" >0</text>
<text x="517.4" y="337.06" font-size="7.6" font-weight="bold" fill="#2a4e9e" text-anchor="start" >20</text>
<text x="517.4" y="313.92" font-size="7.6" font-weight="bold" fill="#2a4e9e" text-anchor="start" >40</text>
<text x="517.4" y="290.78" font-size="7.6" font-weight="bold" fill="#2a4e9e" text-anchor="start" >60</text>
<text x="517.4" y="267.64" font-size="7.6" font-weight="bold" fill="#2a4e9e" text-anchor="start" >80</text>
<text x="517.4" y="244.5" font-size="7.6" font-weight="bold" fill="#2a4e9e" text-anchor="start" >100</text>
<text x="517.4" y="221.36" font-size="7.6" font-weight="bold" fill="#2a4e9e" text-anchor="start" >120</text>
<text x="517.4" y="198.22" font-size="7.6" font-weight="bold" fill="#2a4e9e" text-anchor="start" >140</text>
<path d="M513.7,357.5L510.6,357.5M513.7,345.93L511.8,345.93M513.7,334.36L510.6,334.36M513.7,322.79L511.8,322.79M513.7,311.22L510.6,311.22M513.7,299.65L511.8,299.65M513.7,288.08L510.6,288.08M513.7,276.51L511.8,276.51M513.7,264.94L510.6,264.94M513.7,253.37L511.8,253.37M513.7,241.8L510.6,241.8M513.7,230.23L511.8,230.23M513.7,218.66L510.6,218.66M513.7,207.09L511.8,207.09M513.7,195.52L510.6,195.52" stroke="#444" stroke-width="1" fill="none"/>
<text x="291.3" y="278.7" font-size="9.4" font-weight="bold" fill="#111" text-anchor="middle" transform="rotate(-90 291.3 278.7)" textLength="115.6" lengthAdjust="spacingAndGlyphs" >Gas permeability (Barrer)</text>
<text x="414.4" y="383.2" font-size="9" font-weight="bold" fill="#111" text-anchor="middle" textLength="90" lengthAdjust="spacingAndGlyphs" >Operating time (min)</text>
<text x="541.7" y="278.4" font-size="8.6" font-weight="bold" fill="#2a4e9e" text-anchor="middle" transform="rotate(-90 541.7 278.4)" textLength="109" lengthAdjust="spacingAndGlyphs">Ideal selectivity (CO<tspan font-size="6.2" dy="2">2</tspan><tspan dy="-2">/N</tspan><tspan font-size="6.2" dy="2">2</tspan><tspan dy="-2">)</tspan></text>
<polyline points="324.28,226.6 333.76,227.7 343.24,224 352.72,226 362.2,226 371.68,223.6 381.16,226 390.64,225 400.12,226.6 409.6,225.6 419.08,221.6 428.56,222 438.04,222.4 447.52,225 457,225.4 466.48,226 475.96,221 485.44,220.4 494.92,221 504.4,221.4" fill="none" stroke="#ff3030" stroke-width="0.9"/>
<polyline points="324.28,257.2 333.76,250.5 343.24,258.7 352.72,261.3 362.2,256.2 371.68,255.8 381.16,260.7 390.64,256.6 400.12,259.3 409.6,256.4 419.08,248 428.56,254 438.04,253 447.52,255.4 457,254.6 466.48,257.4 475.96,252.6 485.44,248 494.92,253 504.4,248" fill="none" stroke="#2a4c9c" stroke-width="0.9"/>
<polyline points="324.28,340.6 333.76,340 343.24,340.4 352.72,339.6 362.2,342.6 371.68,341.4 381.16,340 390.64,342 400.12,341.4 409.6,342.6 419.08,344 428.56,341.4 438.04,342.6 447.52,343 457,344 466.48,343 475.96,341.8 485.44,343 494.92,341.4 504.4,344" fill="none" stroke="#111" stroke-width="0.9"/>
<rect x="321.88" y="224.2" width="4.8" height="4.8" fill="#fff" stroke="#ff3030" stroke-width="1.1"/>
<rect x="331.36" y="225.3" width="4.8" height="4.8" fill="#fff" stroke="#ff3030" stroke-width="1.1"/>
<rect x="340.84" y="221.6" width="4.8" height="4.8" fill="#fff" stroke="#ff3030" stroke-width="1.1"/>
<rect x="350.32" y="223.6" width="4.8" height="4.8" fill="#fff" stroke="#ff3030" stroke-width="1.1"/>
<rect x="359.8" y="223.6" width="4.8" height="4.8" fill="#fff" stroke="#ff3030" stroke-width="1.1"/>
<rect x="369.28" y="221.2" width="4.8" height="4.8" fill="#fff" stroke="#ff3030" stroke-width="1.1"/>
<rect x="378.76" y="223.6" width="4.8" height="4.8" fill="#fff" stroke="#ff3030" stroke-width="1.1"/>
<rect x="388.24" y="222.6" width="4.8" height="4.8" fill="#fff" stroke="#ff3030" stroke-width="1.1"/>
<rect x="397.72" y="224.2" width="4.8" height="4.8" fill="#fff" stroke="#ff3030" stroke-width="1.1"/>
<rect x="407.2" y="223.2" width="4.8" height="4.8" fill="#fff" stroke="#ff3030" stroke-width="1.1"/>
<rect x="416.68" y="219.2" width="4.8" height="4.8" fill="#fff" stroke="#ff3030" stroke-width="1.1"/>
<rect x="426.16" y="219.6" width="4.8" height="4.8" fill="#fff" stroke="#ff3030" stroke-width="1.1"/>
<rect x="435.64" y="220" width="4.8" height="4.8" fill="#fff" stroke="#ff3030" stroke-width="1.1"/>
<rect x="445.12" y="222.6" width="4.8" height="4.8" fill="#fff" stroke="#ff3030" stroke-width="1.1"/>
<rect x="454.6" y="223" width="4.8" height="4.8" fill="#fff" stroke="#ff3030" stroke-width="1.1"/>
<rect x="464.08" y="223.6" width="4.8" height="4.8" fill="#fff" stroke="#ff3030" stroke-width="1.1"/>
<rect x="473.56" y="218.6" width="4.8" height="4.8" fill="#fff" stroke="#ff3030" stroke-width="1.1"/>
<rect x="483.04" y="218" width="4.8" height="4.8" fill="#fff" stroke="#ff3030" stroke-width="1.1"/>
<rect x="492.52" y="218.6" width="4.8" height="4.8" fill="#fff" stroke="#ff3030" stroke-width="1.1"/>
<rect x="502" y="219" width="4.8" height="4.8" fill="#fff" stroke="#ff3030" stroke-width="1.1"/>
<path d="M324.28,253.4 L328.18,260.4 L320.38,260.4 Z" fill="#2a4c9c"/>
<path d="M333.76,246.7 L337.66,253.7 L329.86,253.7 Z" fill="#2a4c9c"/>
<path d="M343.24,254.9 L347.14,261.9 L339.34,261.9 Z" fill="#2a4c9c"/>
<path d="M352.72,257.5 L356.62,264.5 L348.82,264.5 Z" fill="#2a4c9c"/>
<path d="M362.2,252.4 L366.1,259.4 L358.3,259.4 Z" fill="#2a4c9c"/>
<path d="M371.68,252 L375.58,259 L367.78,259 Z" fill="#2a4c9c"/>
<path d="M381.16,256.9 L385.06,263.9 L377.26,263.9 Z" fill="#2a4c9c"/>
<path d="M390.64,252.8 L394.54,259.8 L386.74,259.8 Z" fill="#2a4c9c"/>
<path d="M400.12,255.5 L404.02,262.5 L396.22,262.5 Z" fill="#2a4c9c"/>
<path d="M409.6,252.6 L413.5,259.6 L405.7,259.6 Z" fill="#2a4c9c"/>
<path d="M419.08,244.2 L422.98,251.2 L415.18,251.2 Z" fill="#2a4c9c"/>
<path d="M428.56,250.2 L432.46,257.2 L424.66,257.2 Z" fill="#2a4c9c"/>
<path d="M438.04,249.2 L441.94,256.2 L434.14,256.2 Z" fill="#2a4c9c"/>
<path d="M447.52,251.6 L451.42,258.6 L443.62,258.6 Z" fill="#2a4c9c"/>
<path d="M457,250.8 L460.9,257.8 L453.1,257.8 Z" fill="#2a4c9c"/>
<path d="M466.48,253.6 L470.38,260.6 L462.58,260.6 Z" fill="#2a4c9c"/>
<path d="M475.96,248.8 L479.86,255.8 L472.06,255.8 Z" fill="#2a4c9c"/>
<path d="M485.44,244.2 L489.34,251.2 L481.54,251.2 Z" fill="#2a4c9c"/>
<path d="M494.92,249.2 L498.82,256.2 L491.02,256.2 Z" fill="#2a4c9c"/>
<path d="M504.4,244.2 L508.3,251.2 L500.5,251.2 Z" fill="#2a4c9c"/>
<circle cx="324.28" cy="340.6" r="2.4" fill="#fff" stroke="#111" stroke-width="1.4"/>
<circle cx="333.76" cy="340" r="2.4" fill="#fff" stroke="#111" stroke-width="1.4"/>
<circle cx="343.24" cy="340.4" r="2.4" fill="#fff" stroke="#111" stroke-width="1.4"/>
<circle cx="352.72" cy="339.6" r="2.4" fill="#fff" stroke="#111" stroke-width="1.4"/>
<circle cx="362.2" cy="342.6" r="2.4" fill="#fff" stroke="#111" stroke-width="1.4"/>
<circle cx="371.68" cy="341.4" r="2.4" fill="#fff" stroke="#111" stroke-width="1.4"/>
<circle cx="381.16" cy="340" r="2.4" fill="#fff" stroke="#111" stroke-width="1.4"/>
<circle cx="390.64" cy="342" r="2.4" fill="#fff" stroke="#111" stroke-width="1.4"/>
<circle cx="400.12" cy="341.4" r="2.4" fill="#fff" stroke="#111" stroke-width="1.4"/>
<circle cx="409.6" cy="342.6" r="2.4" fill="#fff" stroke="#111" stroke-width="1.4"/>
<circle cx="419.08" cy="344" r="2.4" fill="#fff" stroke="#111" stroke-width="1.4"/>
<circle cx="428.56" cy="341.4" r="2.4" fill="#fff" stroke="#111" stroke-width="1.4"/>
<circle cx="438.04" cy="342.6" r="2.4" fill="#fff" stroke="#111" stroke-width="1.4"/>
<circle cx="447.52" cy="343" r="2.4" fill="#fff" stroke="#111" stroke-width="1.4"/>
<circle cx="457" cy="344" r="2.4" fill="#fff" stroke="#111" stroke-width="1.4"/>
<circle cx="466.48" cy="343" r="2.4" fill="#fff" stroke="#111" stroke-width="1.4"/>
<circle cx="475.96" cy="341.8" r="2.4" fill="#fff" stroke="#111" stroke-width="1.4"/>
<circle cx="485.44" cy="343" r="2.4" fill="#fff" stroke="#111" stroke-width="1.4"/>
<circle cx="494.92" cy="341.4" r="2.4" fill="#fff" stroke="#111" stroke-width="1.4"/>
<circle cx="504.4" cy="344" r="2.4" fill="#fff" stroke="#111" stroke-width="1.4"/>
<text x="381.2" y="208.2" font-size="9.3" font-weight="bold" fill="#ff3030">CO<tspan font-size="5.8" dy="3.3">2</tspan></text>
<path d="M395.6,222.3 L385.4,215.9 L376.5,215.9" stroke="#ff3030" stroke-width="0.8" fill="none"/><path d="M377.6,214.4 L373.6,215.9 L377.6,217.4 Z" fill="#ff3030"/>
<text x="443.6" y="281.6" font-size="9" font-weight="bold" fill="#2a4c9c" textLength="29.2" lengthAdjust="spacingAndGlyphs">CO<tspan font-size="5.8" dy="3.2">2</tspan><tspan dy="-3.2">/N</tspan><tspan font-size="5.8" dy="3.2">2</tspan></text>
<path d="M431,260.8 L437.4,269.5 Q438.2,270.5 439.6,270.5 L446.5,270.5" stroke="#2a4c9c" stroke-width="0.8" fill="none"/><path d="M446,269 L450,270.5 L446,272 Z" fill="#2a4c9c"/>
<text x="372.9" y="321.5" font-size="9.3" font-weight="bold" fill="#111">N<tspan font-size="5.8" dy="3.3">2</tspan></text>
<path d="M384,335 L374,329 L364,329" stroke="#111" stroke-width="0.8" fill="none"/><path d="M365,327.5 L361,329 L365,330.5 Z" fill="#111"/>
</svg>
</body></html>
